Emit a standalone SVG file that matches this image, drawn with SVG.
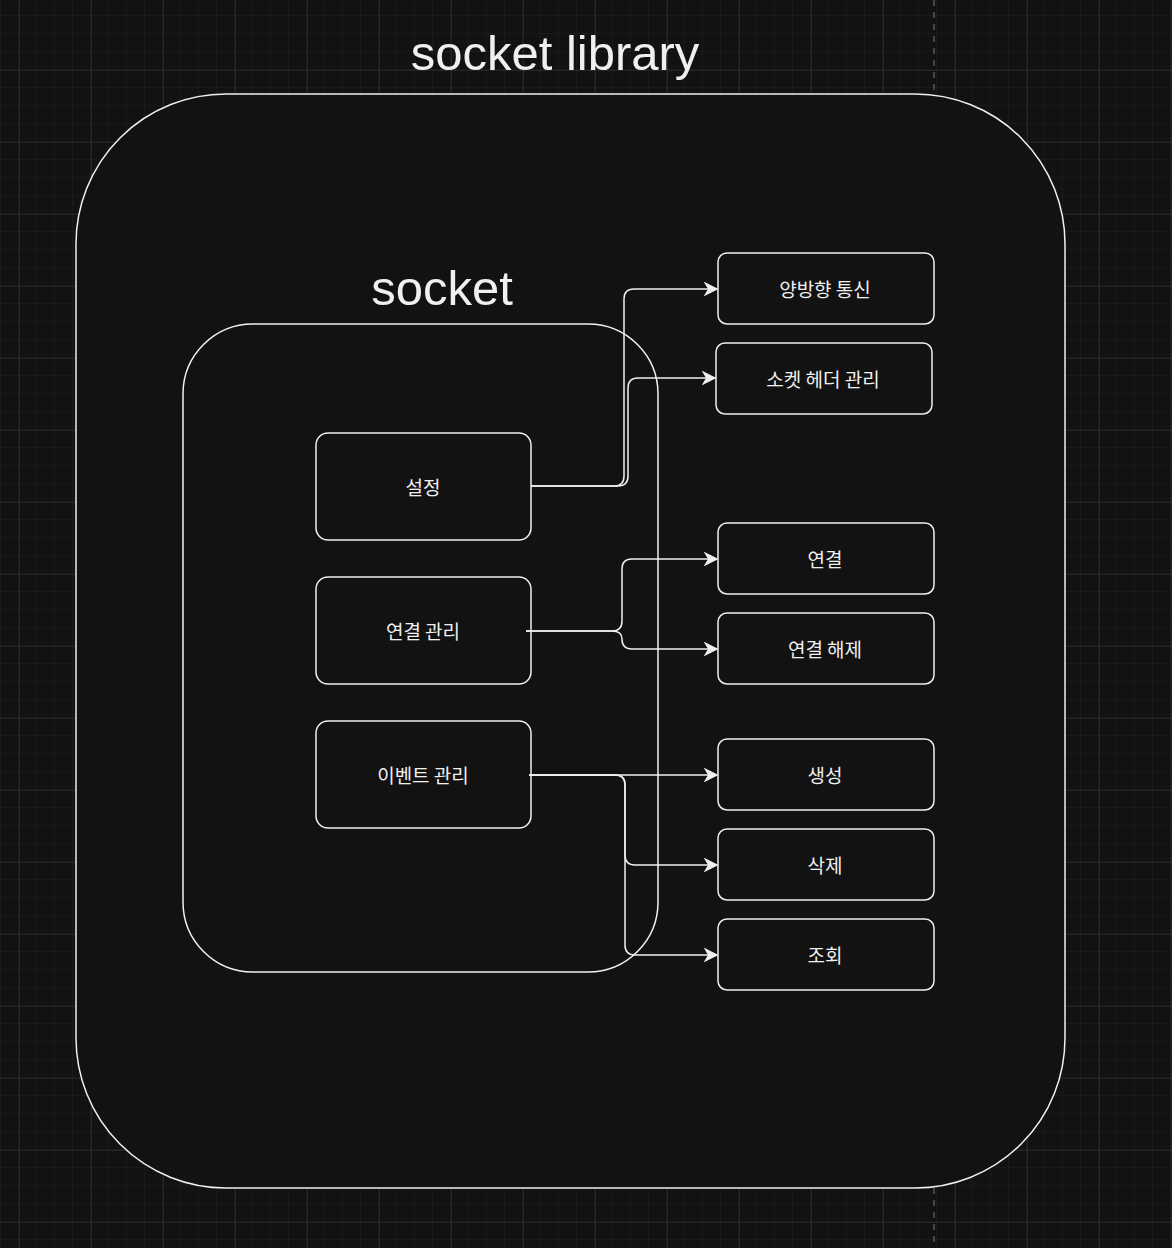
<svg xmlns="http://www.w3.org/2000/svg" width="1172" height="1248" viewBox="0 0 1172 1248">
<defs>
<pattern id="minor" x="1" y="-2" width="18" height="18" patternUnits="userSpaceOnUse"><path d="M18 0V18M0 18H18" fill="none" stroke="#222" stroke-width="1"/></pattern>
<pattern id="major" x="19" y="-2" width="72" height="72" patternUnits="userSpaceOnUse"><path d="M0 0V72M0 0H72" fill="none" stroke="#3a3a3a" stroke-width="1"/></pattern>
<marker id="ar" viewBox="0 0 10 10" refX="9" refY="5" markerWidth="15" markerHeight="15" markerUnits="userSpaceOnUse" orient="auto"><path d="M0 0L10 5L0 10L3 5Z" fill="#f0f0f0"/></marker>
</defs>
<style>
.b{fill:#121212;stroke:#f0f0f0;stroke-width:1.5}
.t{font-family:"Noto Sans CJK KR","Noto Sans",sans-serif;font-size:19px;fill:#f0f0f0;text-anchor:middle;dominant-baseline:central}
.h{font-family:"Liberation Sans","Noto Sans",sans-serif;fill:#f0f0f0;text-anchor:middle}
.c{fill:none;stroke:#f0f0f0;stroke-width:1.5;marker-end:url(#ar)}
</style>
<rect width="1172" height="1248" fill="#121212"/>
<rect width="1172" height="1248" fill="url(#minor)"/>
<rect width="1172" height="1248" fill="url(#major)"/>
<line x1="934" y1="0" x2="934" y2="1248" stroke="#555" stroke-width="1.5" stroke-dasharray="6 6"/>
<g id="lib"><rect class="b" x="76" y="94" width="989" height="1094" rx="150"/><text class="h" x="555" y="70" font-size="49">socket library</text></g>
<g id="socket"><rect class="b" x="183" y="324" width="475" height="648" rx="70"/><text class="h" x="442" y="305" font-size="49">socket</text></g>
<g id="n1"><rect class="b" x="316" y="433" width="215" height="107" rx="12"/><text class="t" x="423" y="486">설정</text></g>
<g id="n2"><rect class="b" x="316" y="577" width="215" height="107" rx="12"/><text class="t" x="423" y="630">연결 관리</text></g>
<g id="n3"><rect class="b" x="316" y="721" width="215" height="107" rx="12"/><text class="t" x="423" y="774">이벤트 관리</text></g>
<g id="r1"><rect class="b" x="718" y="253" width="216" height="71" rx="9"/><text class="t" x="825" y="288">양방향 통신</text></g>
<g id="r2"><rect class="b" x="716" y="343" width="216" height="71" rx="9"/><text class="t" x="823" y="378">소켓 헤더 관리</text></g>
<g id="r3"><rect class="b" x="718" y="523" width="216" height="71" rx="9"/><text class="t" x="825" y="558">연결</text></g>
<g id="r4"><rect class="b" x="718" y="613" width="216" height="71" rx="9"/><text class="t" x="825" y="648">연결 해제</text></g>
<g id="r5"><rect class="b" x="718" y="739" width="216" height="71" rx="9"/><text class="t" x="825" y="774">생성</text></g>
<g id="r6"><rect class="b" x="718" y="829" width="216" height="71" rx="9"/><text class="t" x="825" y="864">삭제</text></g>
<g id="r7"><rect class="b" x="718" y="919" width="216" height="71" rx="9"/><text class="t" x="825" y="954">조회</text></g>
<g id="connectors">
<path class="c" d="M531 486H614Q624 486 624 476V299Q624 289 634 289H717"/>
<path class="c" d="M531 486H618Q628 486 628 476V388Q628 378 638 378H715"/>
<path class="c" d="M526 631H612Q622 631 622 621V569Q622 559 632 559H717"/>
<path class="c" d="M526 631H612Q622 631 622 639V639Q622 649 632 649H717"/>
<path class="c" d="M529 775H717"/>
<path class="c" d="M529 775H615Q625 775 625 785V855Q625 865 635 865H717"/>
<path class="c" d="M529 775H615Q625 775 625 785V945Q625 955 635 955H717"/>
</g>
</svg>
